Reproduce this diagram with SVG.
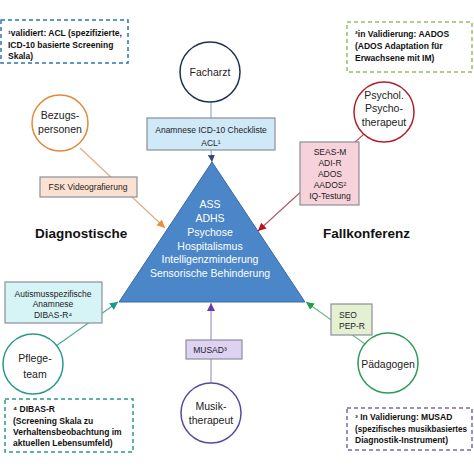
<svg xmlns="http://www.w3.org/2000/svg" width="474" height="474" viewBox="0 0 474 474">
<defs>
<style>
text{font-family:"Liberation Sans",Arial,sans-serif;}
.node{fill:#fff;stroke-width:1.5;}
.nt{font-size:10.5px;fill:#222;text-anchor:middle;}
.box{stroke:#8a8f96;stroke-width:1.2;}
.bt{font-size:8.5px;fill:#222;text-anchor:middle;}
.note{fill:#fff;stroke-width:1.5;stroke-dasharray:4 3;}
.nn{font-size:8.5px;font-weight:bold;fill:#111;}
.tri{font-size:10.5px;fill:#fff;text-anchor:middle;}
.big{font-size:13.5px;font-weight:bold;fill:#111;}
.con{fill:none;stroke-width:1.1;}
</style>
<marker id="aNavy" viewBox="0 0 8 8" refX="8" refY="4" markerWidth="7" markerHeight="7" markerUnits="userSpaceOnUse" orient="auto"><path d="M0,0 L8,4 L0,8 z" fill="#2f4a7a"/></marker>
<marker id="aOrange" viewBox="0 0 8 8" refX="8" refY="4" markerWidth="8" markerHeight="8" markerUnits="userSpaceOnUse" orient="auto"><path d="M0,0 L8,4 L0,8 z" fill="#e8903a"/></marker>
<marker id="aRed" viewBox="0 0 8 8" refX="8" refY="4" markerWidth="8" markerHeight="8" markerUnits="userSpaceOnUse" orient="auto"><path d="M0,0 L8,4 L0,8 z" fill="#c0101e"/></marker>
<marker id="aTeal" viewBox="0 0 8 8" refX="8" refY="4" markerWidth="8" markerHeight="8" markerUnits="userSpaceOnUse" orient="auto"><path d="M0,0 L8,4 L0,8 z" fill="#1a9a8a"/></marker>
<marker id="aGreen" viewBox="0 0 8 8" refX="8" refY="4" markerWidth="8" markerHeight="8" markerUnits="userSpaceOnUse" orient="auto"><path d="M0,0 L8,4 L0,8 z" fill="#1fa050"/></marker>
<marker id="aPurple" viewBox="0 0 8 8" refX="8" refY="4" markerWidth="8" markerHeight="8" markerUnits="userSpaceOnUse" orient="auto"><path d="M0,0 L8,4 L0,8 z" fill="#6a3aa8"/></marker>
</defs>
<rect width="474" height="474" fill="#fff"/>

<g id="connectors">
<line class="con" x1="211" y1="102" x2="211" y2="118" stroke="#8da2b4"/>
<line class="con" x1="211" y1="150" x2="212" y2="162" stroke="#8da2b4" marker-end="url(#aNavy)"/>
<line class="con" x1="80" y1="148" x2="165" y2="228" stroke="#dcae88" marker-end="url(#aOrange)"/>
<line class="con" x1="364" y1="134" x2="258" y2="231" stroke="#b05868" marker-end="url(#aRed)"/>
<line class="con" x1="56" y1="346" x2="118" y2="302" stroke="#4aa89a" marker-end="url(#aTeal)"/>
<line class="con" x1="365" y1="344" x2="306" y2="302" stroke="#6ab88a" marker-end="url(#aGreen)"/>
<line class="con" x1="211" y1="383" x2="211" y2="303" stroke="#9a8ac4" marker-end="url(#aPurple)"/>
</g>

<g id="center">
<polygon points="212,162 119,302 305,302" fill="#4a86c8" stroke="#3a6aa0" stroke-width="1"/>
<text class="tri" x="210" y="208">ASS</text>
<text class="tri" x="210" y="222">ADHS</text>
<text class="tri" x="210" y="236">Psychose</text>
<text class="tri" x="210" y="250">Hospitalismus</text>
<text class="tri" x="210" y="263">Intelligenzminderung</text>
<text class="tri" x="210" y="277">Sensorische Behinderung</text>
</g>

<g id="title">
<text class="big" x="35" y="238">Diagnostische</text>
<text class="big" x="323" y="238">Fallkonferenz</text>
</g>

<g id="facharzt">
<circle class="node" cx="210" cy="72" r="30" stroke="#1f3050"/>
<text class="nt" x="210" y="76">Facharzt</text>
</g>
<g id="acl">
<rect class="box" x="147" y="118" width="128" height="32" fill="#cfe9f9"/>
<text class="bt" x="211" y="133">Anamnese ICD-10 Checkliste</text>
<text class="bt" x="211" y="146">ACL¹</text>
</g>

<g id="bezugspersonen">
<circle class="node" cx="60" cy="123" r="28" stroke="#e08a3a"/>
<text class="nt" x="60" y="119">Bezugs-</text>
<text class="nt" x="60" y="133">personen</text>
</g>
<g id="fsk">
<rect class="box" x="40" y="177" width="97" height="20" fill="#fbe1d2"/>
<text class="bt" x="88" y="190">FSK Videografierung</text>
</g>

<g id="psychotherapeut">
<circle class="node" cx="384" cy="112" r="30" stroke="#b0202e"/>
<text class="nt" x="384" y="99">Psychol.</text>
<text class="nt" x="384" y="112">Psycho-</text>
<text class="nt" x="384" y="126">therapeut</text>
</g>
<g id="seas">
<rect class="box" x="300" y="142" width="59" height="63" fill="#f8d2da"/>
<text class="bt" x="330" y="155">SEAS-M</text>
<text class="bt" x="330" y="166">ADI-R</text>
<text class="bt" x="330" y="177">ADOS</text>
<text class="bt" x="330" y="188">AADOS²</text>
<text class="bt" x="330" y="199">IQ-Testung</text>
</g>

<g id="pflegeteam">
<circle class="node" cx="33" cy="364" r="30" stroke="#2a9a8a"/>
<text class="nt" x="35" y="362">Pflege-</text>
<text class="nt" x="35" y="378">team</text>
</g>
<g id="dibas">
<rect class="box" x="5" y="282" width="97" height="41" fill="#d6f3f6"/>
<text class="bt" x="53" y="297">Autismusspezifische</text>
<text class="bt" x="53" y="307">Anamnese</text>
<text class="bt" x="53" y="318">DIBAS-R⁴</text>
</g>

<g id="paedagogen">
<circle class="node" cx="388" cy="363" r="30" stroke="#2e9a5a"/>
<text class="nt" x="388" y="368">Pädagogen</text>
</g>
<g id="seo">
<rect class="box" x="331" y="304" width="41" height="31" fill="#e3f1d2"/>
<text class="bt" x="339" y="318" style="text-anchor:start">SEO</text>
<text class="bt" x="339" y="329" style="text-anchor:start">PEP-R</text>
</g>

<g id="musiktherapeut">
<circle class="node" cx="211" cy="413" r="30" stroke="#5a4a9a"/>
<text class="nt" x="211" y="410">Musik-</text>
<text class="nt" x="211" y="424">therapeut</text>
</g>
<g id="musad">
<rect class="box" x="186" y="340" width="56" height="19" fill="#ddd2f2" stroke="#8a80a8"/>
<text class="bt" x="210" y="353">MUSAD³</text>
</g>

<g id="note1">
<rect class="note" x="1" y="20" width="127" height="43" stroke="#2e75b6"/>
<text class="nn" x="8" y="36">¹validiert: ACL (spezifizierte,</text>
<text class="nn" x="8" y="48">ICD-10 basierte Screening</text>
<text class="nn" x="8" y="59">Skala)</text>
</g>
<g id="note2">
<rect class="note" x="347" y="22" width="125" height="50" stroke="#9ac060"/>
<text class="nn" x="355" y="37">²in Validierung: AADOS</text>
<text class="nn" x="355" y="49">(ADOS Adaptation für</text>
<text class="nn" x="355" y="61">Erwachsene mit IM)</text>
</g>
<g id="note3">
<rect class="note" x="347" y="408" width="125" height="42" stroke="#7a6aa8"/>
<text class="nn" x="355" y="420">³ In Validierung: MUSAD</text>
<text class="nn" x="355" y="432" textLength="112" lengthAdjust="spacingAndGlyphs">(spezifisches musikbasiertes</text>
<text class="nn" x="355" y="443">Diagnostik-Instrument)</text>
</g>
<g id="note4">
<rect class="note" x="5" y="399" width="128" height="53" stroke="#2a9a8a"/>
<text class="nn" x="13" y="412">⁴ DIBAS-R</text>
<text class="nn" x="13" y="424">(Screening Skala zu</text>
<text class="nn" x="13" y="435">Verhaltensbeobachtung im</text>
<text class="nn" x="13" y="446">aktuellen Lebensumfeld)</text>
</g>
</svg>
